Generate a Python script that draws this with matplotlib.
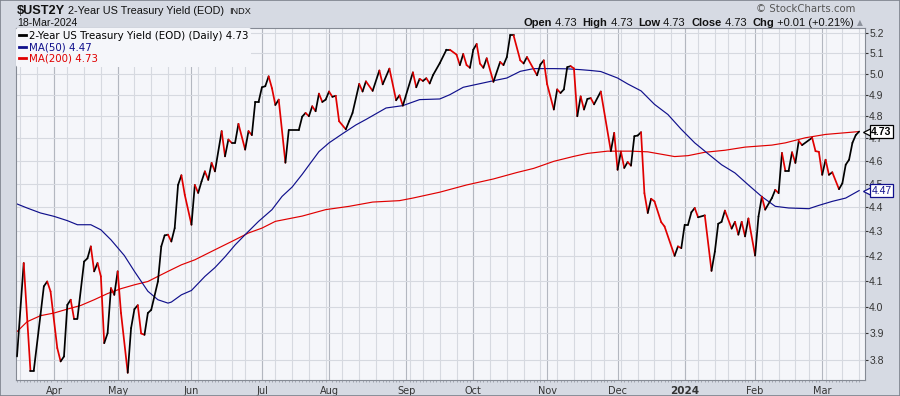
import numpy as np
import pandas as pd
import matplotlib
matplotlib.use('Agg')
import matplotlib.pyplot as plt
from matplotlib.collections import LineCollection
from matplotlib.lines import Line2D
from matplotlib.ticker import NullLocator
from matplotlib.patches import Rectangle
from matplotlib.transforms import offset_copy

# market holidays (no bar on these days)
HOLIDAYS = ['2023-04-07', '2023-05-29', '2023-06-19', '2023-07-04', '2023-09-04',
            '2023-11-23', '2023-12-25', '2024-01-01', '2024-01-15', '2024-02-19']

# close prices (turning points of the daily line)
price_dates = [
    '2023-03-17', '2023-03-21', '2023-03-23', '2023-03-24', '2023-03-28', '2023-03-29', '2023-03-30',
    '2023-03-31', '2023-04-04', '2023-04-05', '2023-04-06', '2023-04-10', '2023-04-11', '2023-04-12',
    '2023-04-13', '2023-04-17', '2023-04-18', '2023-04-19', '2023-04-20', '2023-04-21', '2023-04-24',
    '2023-04-25', '2023-04-26', '2023-04-27', '2023-04-28', '2023-05-01', '2023-05-02', '2023-05-04',
    '2023-05-05', '2023-05-08', '2023-05-09', '2023-05-10', '2023-05-11', '2023-05-12', '2023-05-15',
    '2023-05-17', '2023-05-18', '2023-05-19', '2023-05-22', '2023-05-23', '2023-05-24', '2023-05-25',
    '2023-05-26', '2023-05-30', '2023-06-01', '2023-06-02', '2023-06-05', '2023-06-06', '2023-06-07',
    '2023-06-08', '2023-06-09', '2023-06-12', '2023-06-14', '2023-06-15', '2023-06-16', '2023-06-20',
    '2023-06-21', '2023-06-22', '2023-06-26', '2023-06-27', '2023-06-28', '2023-06-29', '2023-06-30',
    '2023-07-03', '2023-07-05', '2023-07-06', '2023-07-07', '2023-07-10', '2023-07-11', '2023-07-13',
    '2023-07-14', '2023-07-19', '2023-07-20', '2023-07-21', '2023-07-24', '2023-07-25', '2023-07-26',
    '2023-07-27', '2023-07-28', '2023-07-31', '2023-08-01', '2023-08-02', '2023-08-03', '2023-08-04',
    '2023-08-08', '2023-08-09', '2023-08-10', '2023-08-14', '2023-08-15', '2023-08-16', '2023-08-18',
    '2023-08-22', '2023-08-23', '2023-08-25', '2023-08-29', '2023-08-30', '2023-08-31', '2023-09-06',
    '2023-09-07', '2023-09-08', '2023-09-11', '2023-09-12', '2023-09-13', '2023-09-14', '2023-09-18',
    '2023-09-20', '2023-09-21', '2023-09-25', '2023-09-26', '2023-09-27', '2023-09-28', '2023-09-29',
    '2023-10-02', '2023-10-03', '2023-10-04', '2023-10-05', '2023-10-06', '2023-10-10', '2023-10-12',
    '2023-10-13', '2023-10-16', '2023-10-17', '2023-10-18', '2023-10-20', '2023-10-23', '2023-10-24',
    '2023-10-27', '2023-10-30', '2023-10-31', '2023-11-01', '2023-11-03', '2023-11-06', '2023-11-07',
    '2023-11-08', '2023-11-09', '2023-11-10', '2023-11-13', '2023-11-14', '2023-11-15', '2023-11-16',
    '2023-11-17', '2023-11-20', '2023-11-21', '2023-11-24', '2023-11-29', '2023-11-30', '2023-12-01',
    '2023-12-04', '2023-12-05', '2023-12-06', '2023-12-07', '2023-12-08', '2023-12-11', '2023-12-12',
    '2023-12-13', '2023-12-14', '2023-12-15', '2023-12-18', '2023-12-20', '2023-12-21', '2023-12-27',
    '2023-12-28', '2023-12-29', '2024-01-02', '2024-01-03', '2024-01-04', '2024-01-05', '2024-01-08',
    '2024-01-10', '2024-01-12', '2024-01-16', '2024-01-17', '2024-01-18', '2024-01-19', '2024-01-23',
    '2024-01-24', '2024-01-25', '2024-01-26', '2024-01-29', '2024-01-30', '2024-02-01', '2024-02-02',
    '2024-02-05', '2024-02-06', '2024-02-08', '2024-02-09', '2024-02-12', '2024-02-13', '2024-02-14',
    '2024-02-15', '2024-02-16', '2024-02-20', '2024-02-21', '2024-02-22', '2024-02-27', '2024-02-28',
    '2024-02-29', '2024-03-01', '2024-03-04', '2024-03-05', '2024-03-06', '2024-03-08', '2024-03-11',
    '2024-03-12', '2024-03-13', '2024-03-14', '2024-03-15', '2024-03-18']
price_vals = [
    3.813, 4.170, 3.762, 3.762, 3.968, 4.078, 4.097,
    4.058, 3.844, 3.795, 3.813, 4.006, 4.026, 3.953,
    3.953, 4.176, 4.189, 4.237, 4.137, 4.170, 4.117,
    3.862, 3.899, 4.071, 4.045, 4.137, 3.975, 3.754,
    3.918, 3.990, 4.005, 3.898, 3.893, 3.975, 3.987,
    4.097, 4.237, 4.282, 4.285, 4.257, 4.312, 4.494,
    4.536, 4.452, 4.326, 4.494, 4.460, 4.509, 4.553,
    4.516, 4.590, 4.553, 4.732, 4.619, 4.694, 4.679,
    4.679, 4.765, 4.649, 4.732, 4.714, 4.866, 4.866,
    4.935, 4.940, 4.987, 4.930, 4.852, 4.877, 4.591,
    4.737, 4.737, 4.798, 4.815, 4.800, 4.846, 4.823,
    4.905, 4.866, 4.877, 4.915, 4.890, 4.895, 4.777,
    4.740, 4.777, 4.815, 4.951, 4.915, 4.963, 4.918,
    5.015, 4.949, 5.024, 4.874, 4.897, 4.849, 5.006,
    4.935, 4.975, 4.965, 4.978, 4.953, 4.993, 5.050,
    5.116, 5.116, 5.092, 5.041, 5.095, 5.041, 5.028,
    5.116, 5.144, 5.048, 5.028, 5.074, 4.961, 5.056,
    5.041, 5.080, 5.187, 5.187, 5.064, 5.049, 5.080,
    4.992, 5.044, 5.064, 4.950, 4.831, 4.925, 4.908,
    4.925, 5.031, 5.036, 5.025, 4.800, 4.892, 4.831,
    4.880, 4.884, 4.855, 4.915, 4.642, 4.724, 4.560,
    4.640, 4.568, 4.594, 4.578, 4.709, 4.712, 4.727,
    4.459, 4.375, 4.435, 4.424, 4.337, 4.319, 4.199,
    4.237, 4.230, 4.326, 4.326, 4.378, 4.396, 4.357,
    4.365, 4.139, 4.216, 4.330, 4.338, 4.385, 4.310,
    4.338, 4.285, 4.338, 4.278, 4.352, 4.200, 4.360,
    4.444, 4.389, 4.438, 4.473, 4.459, 4.634, 4.556,
    4.556, 4.637, 4.590, 4.687, 4.669, 4.702, 4.642,
    4.639, 4.538, 4.604, 4.538, 4.549, 4.476, 4.501,
    4.582, 4.604, 4.679, 4.714, 4.730]

ma50_dates = [
    '2023-03-17', '2023-03-22', '2023-03-28', '2023-04-03', '2023-04-10', '2023-04-13', '2023-04-19',
    '2023-04-24', '2023-04-27', '2023-05-03', '2023-05-08', '2023-05-12', '2023-05-17', '2023-05-22',
    '2023-05-23', '2023-05-26', '2023-06-01', '2023-06-07', '2023-06-12', '2023-06-15', '2023-06-21',
    '2023-06-26', '2023-06-30', '2023-07-07', '2023-07-12', '2023-07-17', '2023-07-20', '2023-07-24',
    '2023-07-27', '2023-08-01', '2023-08-07', '2023-08-11', '2023-08-16', '2023-08-24', '2023-08-31',
    '2023-09-08', '2023-09-18', '2023-09-21', '2023-09-27', '2023-10-10', '2023-10-16', '2023-10-20',
    '2023-10-26', '2023-11-03', '2023-11-09', '2023-11-15', '2023-11-20', '2023-11-24', '2023-12-01',
    '2023-12-06', '2023-12-12', '2023-12-18', '2023-12-22', '2023-12-29', '2024-01-05', '2024-01-11',
    '2024-01-18', '2024-01-24', '2024-01-30', '2024-02-05', '2024-02-09', '2024-02-15', '2024-02-22',
    '2024-02-26', '2024-02-29', '2024-03-06', '2024-03-12', '2024-03-18']
ma50_vals = [
    4.413, 4.396, 4.375, 4.361, 4.343, 4.326, 4.326,
    4.305, 4.264, 4.200, 4.137, 4.059, 4.026, 4.013,
    4.017, 4.045, 4.062, 4.117, 4.152, 4.195, 4.243,
    4.285, 4.340, 4.389, 4.445, 4.485, 4.540, 4.580,
    4.640, 4.679, 4.720, 4.760, 4.785, 4.838, 4.849,
    4.877, 4.880, 4.900, 4.935, 4.966, 4.979, 5.011,
    5.024, 5.024, 5.023, 5.019, 5.015, 5.010, 4.979,
    4.951, 4.918, 4.855, 4.808, 4.740, 4.679, 4.630,
    4.582, 4.546, 4.494, 4.444, 4.403, 4.396, 4.394,
    4.393, 4.407, 4.424, 4.438, 4.470]

ma200_dates = [
    '2023-03-17', '2023-03-22', '2023-03-28', '2023-04-03', '2023-04-10', '2023-04-14', '2023-04-20',
    '2023-04-26', '2023-05-02', '2023-05-08', '2023-05-12', '2023-05-17', '2023-05-22', '2023-05-26',
    '2023-06-02', '2023-06-08', '2023-06-14', '2023-06-21', '2023-06-27', '2023-07-03', '2023-07-10',
    '2023-07-14', '2023-07-20', '2023-07-31', '2023-08-09', '2023-08-18', '2023-08-30', '2023-09-06',
    '2023-09-18', '2023-09-28', '2023-10-10', '2023-10-19', '2023-10-26', '2023-11-03', '2023-11-13',
    '2023-11-17', '2023-11-28', '2023-12-07', '2023-12-14', '2023-12-27', '2024-01-03', '2024-01-10',
    '2024-01-19', '2024-01-29', '2024-02-08', '2024-02-14', '2024-02-23', '2024-03-04', '2024-03-18']
ma200_vals = [
    3.905, 3.942, 3.965, 3.975, 3.990, 4.004, 4.026,
    4.050, 4.069, 4.084, 4.097, 4.117, 4.137, 4.163,
    4.183, 4.210, 4.237, 4.264, 4.292, 4.312, 4.340,
    4.351, 4.362, 4.389, 4.403, 4.421, 4.427, 4.438,
    4.463, 4.494, 4.520, 4.548, 4.566, 4.597, 4.619,
    4.632, 4.642, 4.642, 4.639, 4.618, 4.622, 4.637,
    4.646, 4.660, 4.669, 4.679, 4.702, 4.717, 4.730]

y_ticks = [3.8, 3.9, 4.0, 4.1, 4.2, 4.3, 4.4, 4.5, 4.6, 4.7, 4.8, 4.9, 5.0, 5.1, 5.2]
month_names = ['Apr', 'May', 'Jun', 'Jul', 'Aug', 'Sep', 'Oct', 'Nov', 'Dec', '2024', 'Feb', 'Mar']

OUTER = '#d6dae3'
PLOTBG = '#f5f6fa'
GRID = '#d6d9e0'
MGRID = '#b3b7c0'
RED = '#e00000'
NAVY = '#10108c'

W, H = 900, 396
fig = plt.figure(figsize=(W / 100, H / 100), dpi=100, facecolor=OUTER)
ax = fig.add_axes([16 / W, 16 / H, 849 / W, 352 / H], facecolor=PLOTBG)

days = pd.bdate_range('2023-03-17', '2024-03-18', freq='C', holidays=HOLIDAYS)
def pos(dates):
    return days.get_indexer(pd.to_datetime(dates))

# grid: weekly light lines, monthly darker lines
week_first = [i for i in range(1, len(days)) if days[i].weekday() < days[i - 1].weekday()]
month_first = [i for i in range(1, len(days)) if days[i].month != days[i - 1].month]
for i in week_first:
    ax.axvline(i, color=GRID, lw=0.8, zorder=0)
for i in month_first:
    ax.axvline(i, color=MGRID, lw=0.8, zorder=0)
for t in y_ticks:
    ax.axhline(t, color=GRID, lw=0.8, zorder=0)

# moving averages
ax.plot(pos(ma200_dates), ma200_vals, color=RED, lw=0.85, zorder=2)
ax.plot(pos(ma50_dates), ma50_vals, color=NAVY, lw=0.85, zorder=2)

# price line, black up / red down
px = pos(price_dates)
py = np.array(price_vals)
pts = np.column_stack([px, py])
segs = np.stack([pts[:-1], pts[1:]], axis=1)
cols = np.where(np.diff(py) < 0, RED, 'black')
ax.add_collection(LineCollection(segs, colors=cols, linewidths=1.25,
                                 capstyle='round', joinstyle='round', zorder=3))

ax.set_yscale('log')
ax.set_xlim(-0.3, 252.75)
ax.set_ylim(3.728, 5.2234)
ax.yaxis.tick_right()
ax.set_yticks(y_ticks)
ax.set_yticklabels([f'{t:.1f}' for t in y_ticks])
ax.yaxis.set_minor_locator(NullLocator())
ax.tick_params(axis='y', which='major', length=2, pad=1, labelsize=7.5, colors='#333333',
               labelfontfamily='Liberation Sans')

ax.set_xticks(month_first)
ax.set_xticklabels(month_names)
ax.set_xticks(range(len(days)), minor=True)
ax.tick_params(axis='x', which='major', length=0, pad=4, labelsize=7, colors='#333333')
ax.tick_params(axis='x', which='minor', length=1.5, width=0.6, color='#9a9ea8')
for lab in ax.get_xticklabels():
    if lab.get_text() == '2024':
        lab.set_fontweight('bold')
        lab.set_fontsize(7.5)
for s in ax.spines.values():
    s.set_color('#858a94')
    s.set_linewidth(0.8)

# legend
handles = [Line2D([], [], color='black', lw=2),
           Line2D([], [], color=NAVY, lw=2),
           Line2D([], [], color=RED, lw=2)]
labels = ['2-Year US Treasury Yield (EOD) (Daily) 4.73', 'MA(50) 4.47', 'MA(200) 4.73']
leg = ax.legend(handles, labels, loc='upper left', bbox_to_anchor=(0, 1), borderaxespad=0,
                fontsize=7.4, handlelength=0.7, handletextpad=0.25, labelspacing=0.12,
                borderpad=0.3, frameon=True, facecolor=PLOTBG, edgecolor='none', framealpha=1,
                labelcolor=['black', NAVY, RED])
leg.set_zorder(6)

# last value tags on the right
def tag(val, color, weight):
    tr = offset_copy(ax.get_yaxis_transform(), fig=fig, x=2, y=0, units='dots')
    ax.plot([1.0], [val], transform=tr, marker='<', ms=6, mfc='white', mec=color, mew=0.9,
            clip_on=False, zorder=7)
    ax.annotate(f'{val:.2f}', xy=(1, val), xycoords=ax.get_yaxis_transform(),
                xytext=(4.5, 0), textcoords='offset points', ha='left', va='center',
                fontsize=7.5, fontweight=weight, color=color, family='Liberation Sans',
                bbox=dict(boxstyle='square,pad=0.15', fc='white', ec=color, lw=0.9),
                annotation_clip=False, zorder=8)
tag(price_vals[-1], 'black', 'bold')
tag(ma50_vals[-1], NAVY, 'normal')

# header texts
def fx(x):
    return x / W
def fy(y):
    return 1 - y / H

fig.text(fx(17), fy(13.5), '$UST2Y', fontsize=9.2, fontweight='bold', family='Liberation Sans',
         color='#111111', va='baseline')
fig.text(fx(68), fy(13.5), '2-Year US Treasury Yield (EOD)', fontsize=7.8,
         family='Liberation Sans', color='#111111', va='baseline')
fig.text(fx(229), fy(13.5), 'INDX', fontsize=6.6, family='Liberation Sans', color='#111111',
         va='baseline')
fig.text(fx(17), fy(26.5), '18-Mar-2024', fontsize=7.6, family='Liberation Sans', color='#111111',
         va='baseline')

fig.text(fx(855), fy(12.5), '\u00a9 StockCharts.com', fontsize=7.3, family='DejaVu Sans',
         color='#555555', ha='right', va='baseline')

# Open / High / Low / Close / Chg line, chained right to left
pieces = [('Open', 'bold'), (' 4.73  ', 'normal'), ('High', 'bold'), (' 4.73  ', 'normal'),
          ('Low', 'bold'), (' 4.73  ', 'normal'), ('Close', 'bold'), (' 4.73  ', 'normal'),
          ('Chg', 'bold'), (' +0.01 (+0.21%)', 'normal')]
anchor = fig.text(fx(854), fy(25.5), pieces[-1][0], fontsize=8, fontweight=pieces[-1][1],
                  family='Liberation Sans', color='#111111', ha='right', va='baseline')
for txt, wt in reversed(pieces[:-1]):
    anchor = ax.annotate(txt, xy=(0, 0), xycoords=anchor, ha='right', va='bottom',
                         fontsize=8, fontweight=wt, family='Liberation Sans', color='#111111',
                         annotation_clip=False)
fig.text(fx(857), fy(25.5), '\u25b2', fontsize=5.5, color='#8d929c', ha='left', va='baseline')

fig.patches.append(Rectangle((0, 0), 1, 1, transform=fig.transFigure, fill=False,
                             ec='#7d828c', lw=1.2))

fig.savefig('out.png', dpi=100, facecolor=OUTER)
